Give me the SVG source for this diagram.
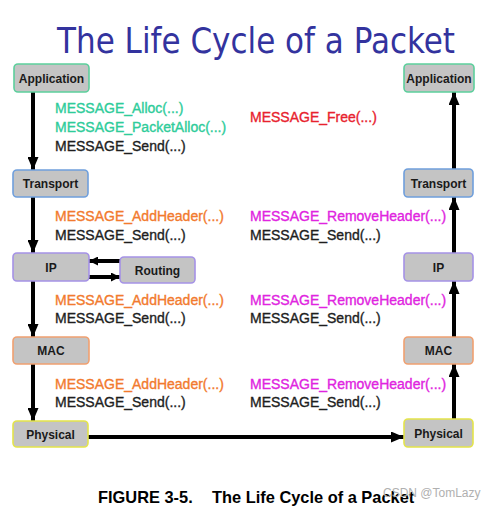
<svg xmlns="http://www.w3.org/2000/svg" width="495" height="510" viewBox="0 0 495 510">
<style>
.box{fill:#c4c4c4;stroke-width:1.6}
.lbl{font-family:"Liberation Sans",Arial,sans-serif;font-weight:bold;font-size:12px;fill:#1a1a1a;text-anchor:middle}
.m{font-family:"Liberation Sans",Arial,sans-serif;font-size:14px;stroke-width:0.35}
.k{fill:#1e1e1e;stroke:#1e1e1e}
.g{fill:#2ecc9a;stroke:#2ecc9a}
.r{fill:#e8222e;stroke:#e8222e}
.o{fill:#f27a2e;stroke:#f27a2e}
.p{fill:#e024e0;stroke:#e024e0}
.c{stroke:#000;stroke-width:4;fill:none}
</style>
<defs>
<marker id="ah" markerUnits="userSpaceOnUse" markerWidth="13" markerHeight="11" refX="13" refY="5.5" orient="auto">
<path d="M0,0 L13,5.5 L0,11 z" fill="#000"/>
</marker>
<marker id="ahs" markerUnits="userSpaceOnUse" markerWidth="9" markerHeight="9" refX="9" refY="4.5" orient="auto">
<path d="M0,0 L9,4.5 L0,9 z" fill="#000"/>
</marker>
</defs>
<rect width="495" height="510" fill="#fff"/>
<text x="256" y="53" font-family="DejaVu Sans Condensed,DejaVu Sans,sans-serif" font-size="36" fill="#33339e" text-anchor="middle" textLength="398" lengthAdjust="spacingAndGlyphs">The Life Cycle of a Packet</text>

<g id="connectors">
<line class="c" x1="33" y1="92" x2="33" y2="170" marker-end="url(#ah)"/>
<line class="c" x1="33" y1="197" x2="33" y2="253" marker-end="url(#ah)"/>
<line class="c" x1="33" y1="281" x2="33" y2="337" marker-end="url(#ah)"/>
<line class="c" x1="33" y1="364" x2="33" y2="421" marker-end="url(#ah)"/>
<line class="c" x1="88" y1="437" x2="404" y2="437" stroke-width="5" marker-end="url(#ah)"/>
<line class="c" x1="454" y1="419" x2="454" y2="364" marker-end="url(#ah)"/>
<line class="c" x1="454" y1="337" x2="454" y2="281" marker-end="url(#ah)"/>
<line class="c" x1="454" y1="253" x2="454" y2="197" marker-end="url(#ah)"/>
<line class="c" x1="454" y1="169" x2="454" y2="92" marker-end="url(#ah)"/>
<line class="c" x1="120" y1="261" x2="89" y2="261" marker-end="url(#ahs)"/>
<line class="c" x1="89" y1="277" x2="120" y2="277" marker-end="url(#ahs)"/>
</g>

<g id="app-left"><rect class="box" x="14" y="64" width="75" height="28" rx="4" stroke="#5ccf9c"/><text class="lbl" x="51.5" y="82.5">Application</text></g>
<g id="transport-left"><rect class="box" x="13" y="170" width="75" height="27" rx="4" stroke="#6f9fdc"/><text class="lbl" x="50.5" y="188">Transport</text></g>
<g id="ip-left"><rect class="box" x="13" y="253" width="76" height="28" rx="4" stroke="#a592e6"/><text class="lbl" x="51" y="271.5">IP</text></g>
<g id="routing"><rect class="box" x="120" y="257" width="75" height="26" rx="4" stroke="#a592e6"/><text class="lbl" x="157.5" y="274.5">Routing</text></g>
<g id="mac-left"><rect class="box" x="13" y="337" width="76" height="27" rx="4" stroke="#f0a070"/><text class="lbl" x="51" y="355">MAC</text></g>
<g id="phys-left"><rect class="box" x="13" y="421" width="75" height="26" rx="4" stroke="#e4e44a"/><text class="lbl" x="50.5" y="438.5">Physical</text></g>

<g id="app-right"><rect class="box" x="404" y="64" width="70" height="28" rx="4" stroke="#5ccf9c"/><text class="lbl" x="439" y="82.5">Application</text></g>
<g id="transport-right"><rect class="box" x="404" y="169" width="69" height="28" rx="4" stroke="#6f9fdc"/><text class="lbl" x="438.5" y="187.5">Transport</text></g>
<g id="ip-right"><rect class="box" x="404" y="253" width="69" height="28" rx="4" stroke="#a592e6"/><text class="lbl" x="438.5" y="271.5">IP</text></g>
<g id="mac-right"><rect class="box" x="404" y="337" width="69" height="27" rx="4" stroke="#f0a070"/><text class="lbl" x="438.5" y="355">MAC</text></g>
<g id="phys-right"><rect class="box" x="404" y="419" width="69" height="28" rx="4" stroke="#e4e44a"/><text class="lbl" x="438.5" y="437.5">Physical</text></g>

<g id="labels">
<text class="m g" x="55" y="113">MESSAGE_Alloc(...)</text>
<text class="m g" x="55" y="132">MESSAGE_PacketAlloc(...)</text>
<text class="m k" x="55" y="151">MESSAGE_Send(...)</text>
<text class="m r" x="250" y="122">MESSAGE_Free(...)</text>
<text class="m o" x="55" y="221">MESSAGE_AddHeader(...)</text>
<text class="m k" x="55" y="240">MESSAGE_Send(...)</text>
<text class="m p" x="250" y="221">MESSAGE_RemoveHeader(...)</text>
<text class="m k" x="250" y="240">MESSAGE_Send(...)</text>
<text class="m o" x="55" y="305">MESSAGE_AddHeader(...)</text>
<text class="m k" x="55" y="323">MESSAGE_Send(...)</text>
<text class="m p" x="250" y="305">MESSAGE_RemoveHeader(...)</text>
<text class="m k" x="250" y="323">MESSAGE_Send(...)</text>
<text class="m o" x="55" y="389">MESSAGE_AddHeader(...)</text>
<text class="m k" x="55" y="407">MESSAGE_Send(...)</text>
<text class="m p" x="250" y="389">MESSAGE_RemoveHeader(...)</text>
<text class="m k" x="250" y="407">MESSAGE_Send(...)</text>
</g>

<text font-family="Liberation Sans,Arial,sans-serif" font-weight="bold" font-size="16.4" fill="#000" y="503"><tspan x="98">FIGURE 3-5.</tspan><tspan x="212">The Life Cycle of a Packet</tspan></text>
<text x="383" y="497" font-family="Liberation Sans,Arial,sans-serif" font-size="12" fill="#b0b0b0">CSDN @TomLazy</text>
</svg>
